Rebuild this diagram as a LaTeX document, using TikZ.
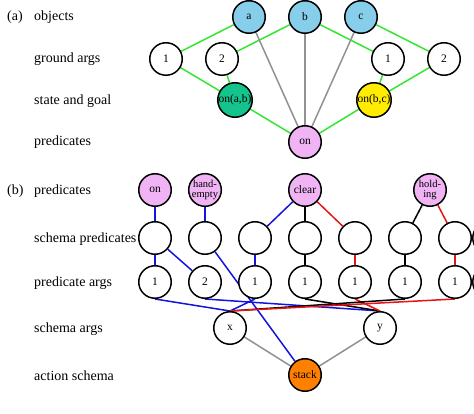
\documentclass[tikz,border=0pt]{standalone}
\usepackage{fontspec}
\setmainfont{Liberation Serif}
\usetikzlibrary{backgrounds}
\definecolor{objblue}{RGB}{135,206,235}
\definecolor{stgreen}{RGB}{20,196,140}
\definecolor{goalyellow}{RGB}{255,236,0}
\definecolor{predpink}{RGB}{240,180,245}
\definecolor{actorange}{RGB}{255,128,0}
\definecolor{lgreen}{RGB}{50,230,50}
\definecolor{lgray}{RGB}{145,145,145}
\definecolor{lblue}{RGB}{20,20,220}
\definecolor{lred}{RGB}{230,20,20}
\tikzset{
  nd/.style={circle, draw=black, line width=1.5pt, minimum size=32.5pt, inner sep=0pt, font=\fontsize{11.5}{11.5}\selectfont, align=center},
  twoline/.style={font=\fontsize{10.5}{10}\selectfont},
  rowlab/.style={anchor=west, font=\fontsize{14}{14}\selectfont, inner sep=0pt},
  ge/.style={lgreen, line width=1.5pt},
  ye/.style={lgray, line width=1.5pt},
  be/.style={lblue, line width=1.5pt},
  re/.style={lred, line width=1.5pt},
  ke/.style={black, line width=1.5pt},
}
\begin{document}
\begin{tikzpicture}[x=1pt,y=-1pt]
\useasboundingbox (0,0) rectangle (474,414);
\clip (0,0) rectangle (474,414);
% labels (a)
\node[rowlab] (la) at (7,17) {(a)};
\node[rowlab] (l1) at (34,17) {objects};
\node[rowlab] (l2) at (34,59) {ground args};
\node[rowlab] (l3) at (34,101) {state and goal};
\node[rowlab] (l4) at (34,142) {predicates};
% labels (b)
\node[rowlab] (lb) at (7,191) {(b)};
\node[rowlab] (m1) at (34,191) {predicates};
\node[rowlab] (m2) at (34,239) {schema predicates};
\node[rowlab] (m3) at (34,283) {predicate args};
\node[rowlab] (m4) at (34,329) {schema args};
\node[rowlab] (m5) at (34,376) {action schema};
% panel (a) nodes
\node[nd, fill=objblue] (a) at (249,17) {a};
\node[nd, fill=objblue] (b) at (305,17) {b};
\node[nd, fill=objblue] (c) at (361,17) {c};
\node[nd, fill=white] (g1) at (166,59) {1};
\node[nd, fill=white] (g2) at (222,59) {2};
\node[nd, fill=white] (g3) at (388,59) {1};
\node[nd, fill=white] (g4) at (444,59) {2};
\node[nd, fill=stgreen] (sab) at (235,100) {on(a,b)};
\node[nd, fill=goalyellow] (sbc) at (374,100) {on(b,c)};
\node[nd, fill=predpink] (pon) at (305,142) {on};
% panel (b) nodes
\node[nd, fill=predpink] (q1) at (155,190) {on};
\node[nd, fill=predpink, twoline] (q2) at (205,190) {hand-\\empty};
\node[nd, fill=predpink] (q3) at (305,190) {clear};
\node[nd, fill=predpink, twoline] (q4) at (430,190) {hold-\\ing};
\foreach \i/\x in {1/155,2/205,3/255,4/305,5/355,6/405,7/455,8/489} {
  \node[nd, fill=white] (s\i) at (\x,238) {};
}
\node[nd, fill=white] (p1) at (155,282) {1};
\node[nd, fill=white] (p2) at (205,282) {2};
\node[nd, fill=white] (p3) at (255,282) {1};
\node[nd, fill=white] (p4) at (305,282) {1};
\node[nd, fill=white] (p5) at (355,282) {1};
\node[nd, fill=white] (p6) at (405,282) {1};
\node[nd, fill=white] (p7) at (455,282) {1};
\node[nd, fill=white] (p8) at (489,282) {};
\node[nd, fill=white] (x) at (230,328) {x};
\node[nd, fill=white] (y) at (380,328) {y};
\node[nd, fill=actorange] (st) at (305,375) {stack};
\begin{scope}[on background layer]
% panel (a) edges
\draw[ge] (a) -- (g1);
\draw[ge] (b) -- (g2);
\draw[ge] (b) -- (g3);
\draw[ge] (c) -- (g4);
\draw[ge] (g1) -- (sab);
\draw[ge] (g2) -- (sab);
\draw[ge] (g3) -- (sbc);
\draw[ge] (g4) -- (sbc);
\draw[ge] (sab) -- (pon);
\draw[ge] (sbc) -- (pon);
\draw[ye] (a) -- (pon);
\draw[ye] (b) -- (pon);
\draw[ye] (c) -- (pon);
% panel (b) edges
\draw[be] (q1) -- (s1);
\draw[be] (q2) -- (s2);
\draw[be] (q3) -- (s3);
\draw[ke] (q3) -- (s4);
\draw[re] (q3) -- (s5);
\draw[ke] (q4) -- (s6);
\draw[re] (q4) -- (s7);
\draw[be] (s1) -- (p1);
\draw[be] (s1) -- (p2);
\draw[be] (s2) -- (st);
\draw[be] (s3) -- (p3);
\draw[ke] (s4) -- (p4);
\draw[re] (s5) -- (p5);
\draw[ke] (s6) -- (p6);
\draw[re] (s7) -- (p7);
\draw[be] (p1.south) -- (x.north);
\draw[be] (p2.south) -- (y.north);
\draw[be] (p3.south) -- (x.north);
\draw[ke] (p4.south) -- (y.north);
\draw[re] (p5.south) -- (y.north);
\draw[ke] (p6.south) -- (x.north);
\draw[re] (p7.south) -- (x.north);
\draw[ye] (x) -- (st);
\draw[ye] (y) -- (st);
\end{scope}
\end{tikzpicture}
\end{document}
